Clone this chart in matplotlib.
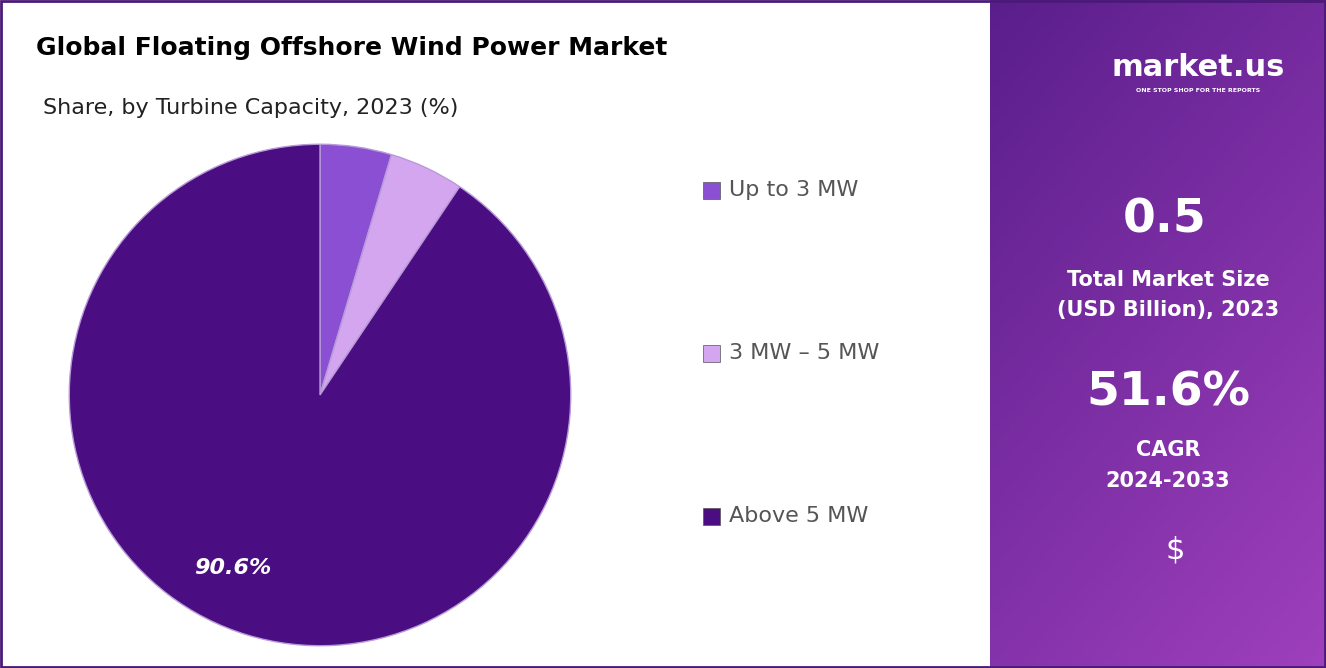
import matplotlib
matplotlib.use("Agg")
import matplotlib.pyplot as plt
import numpy as np
from matplotlib.patches import Rectangle

categories = ["Up to 3 MW", "3 MW \u2013 5 MW", "Above 5 MW"]
shares = [4.6, 4.8, 90.6]
colors = ["#8A4FD3", "#D4A6F0", "#4A0E82"]
title = "Global Floating Offshore Wind Power Market"
subtitle = "Share, by Turbine Capacity, 2023 (%)"
market_size = "0.5"
cagr = "51.6%"

W, H = 1326, 668
fig = plt.figure(figsize=(W/100, H/100), dpi=100)
fig.patch.set_facecolor("white")
FONT = "DejaVu Sans"

fig.add_artist(Rectangle((1/W, 1/H), 1-2/W, 1-2/H, transform=fig.transFigure,
                         fill=False, edgecolor="#4A1A78", lw=2))

axr = fig.add_axes([990/W, 0, 336/W, 1])
yy, xx = np.mgrid[0:1:200j, 0:1:100j]
t = 0.5*yy + 0.3*xx
c1 = np.array([0x5A, 0x1E, 0x8C]) / 255
c2 = np.array([0xB0, 0x48, 0xC8]) / 255
img = c1[None, None, :]*(1-t[..., None]) + c2[None, None, :]*t[..., None]
axr.imshow(img[::-1], extent=[0, 1, 0, 1], aspect="auto", origin="lower")
axr.set_xlim(0, 1); axr.set_ylim(0, 1); axr.axis("off")
def rt(x, y, s, size, weight="bold"):
    axr.text(x, y, s, ha="center", va="center", color="white",
             fontsize=size, fontweight=weight, family=FONT)
rt(0.62, 1-68/H, "market.us", 22)
rt(0.62, 1-90/H, "ONE STOP SHOP FOR THE REPORTS", 4.5)
rt(0.52, 1-220/H, market_size, 34)
rt(0.53, 1-280/H, "Total Market Size", 15)
rt(0.53, 1-310/H, "(USD Billion), 2023", 15)
rt(0.53, 1-393/H, cagr, 34)
rt(0.53, 1-450/H, "CAGR", 15)
rt(0.53, 1-481/H, "2024-2033", 15)
rt(0.55, 1-550/H, "$", 22, "normal")

fig.text(36/W, 1-48/H, title, fontsize=18, fontweight="bold", family=FONT,
         va="center", color="black")
fig.text(43/W, 1-108/H, subtitle, fontsize=16, family=FONT, va="center", color="#222222")

cx, cy, r = 320, 395, 252
ax = fig.add_axes([(cx-r)/W, (H-cy-r)/H, 2*r/W, 2*r/H])
wedges, _ = ax.pie(shares, colors=colors, startangle=90, counterclock=False, radius=1,
                   wedgeprops=dict(edgecolor="#B89AD8", linewidth=1))
ax.set_xlim(-1.005, 1.005); ax.set_ylim(-1.005, 1.005)
ax.set_aspect("equal")
ax.text(-0.35, -0.69, "90.6%", color="white", fontsize=16, fontweight="bold",
        style="italic", family=FONT, ha="center", va="center")

ly = [190, 353, 516]
for cat, col, y in zip(categories, colors, ly):
    fig.add_artist(Rectangle((703/W, 1-(y+9)/H), 17/W, 17/H, transform=fig.transFigure,
                             facecolor=col, edgecolor="#555555", lw=0.5))
    fig.text(729/W, 1-y/H, cat, fontsize=16, family=FONT, va="center", color="#555555")

fig.savefig("out.png", dpi=100)
